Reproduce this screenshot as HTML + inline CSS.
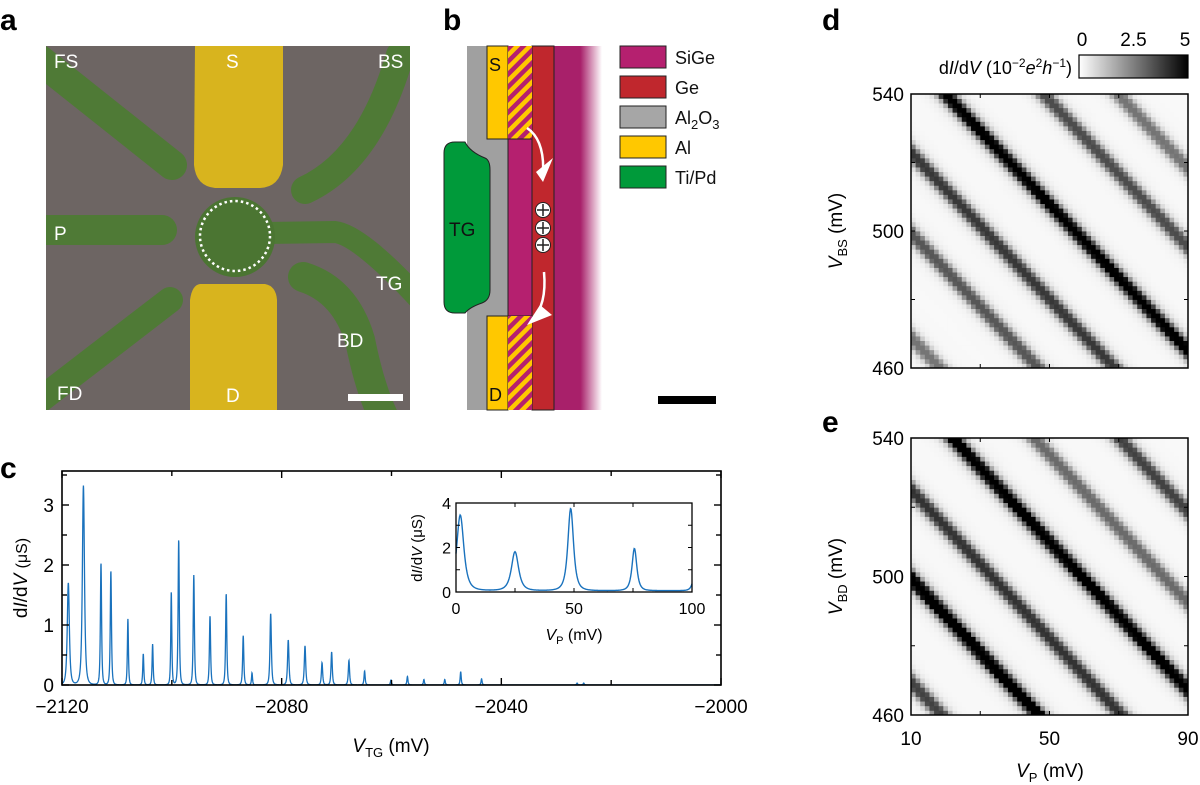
<!DOCTYPE html>
<html><head><meta charset="utf-8"><style>
body{margin:0;background:#fff;}
svg{display:block;font-family:"Liberation Sans",sans-serif;}
</style></head><body>
<svg id="fig" width="1200" height="785" viewBox="0 0 1200 785" xmlns="http://www.w3.org/2000/svg">
<defs>
<pattern id="hatch" width="9" height="9" patternUnits="userSpaceOnUse" patternTransform="rotate(45)">
<rect width="9" height="9" fill="#b5206f"/><rect width="4.5" height="9" fill="#ffc800"/>
</pattern>
<linearGradient id="fade" x1="0" x2="1"><stop offset="0" stop-color="#a8206a"/><stop offset="0.55" stop-color="#a8206a"/><stop offset="1" stop-color="#fff"/></linearGradient>
<linearGradient id="cbar" x1="0" x2="1"><stop offset="0" stop-color="#fff"/><stop offset="1" stop-color="#000"/></linearGradient>
<clipPath id="clipA"><rect x="46" y="46" width="364" height="364"/></clipPath>
</defs>

<text x="0" y="30" font-size="30" font-weight="bold">a</text>
<text x="443" y="30" font-size="30" font-weight="bold">b</text>
<text x="0" y="478" font-size="30" font-weight="bold">c</text>
<text x="822" y="30" font-size="30" font-weight="bold">d</text>
<text x="822" y="432" font-size="30" font-weight="bold">e</text>

<g clip-path="url(#clipA)">
<rect x="46" y="46" width="364" height="364" fill="#6d6563"/>
<g stroke="#4f7a36" stroke-linecap="round" fill="none">
<path d="M40,60 L172,165" stroke-width="30"/>
<path d="M40,400 L170,300" stroke-width="26"/>
<path d="M40,230 L162,230" stroke-width="30"/>
<path d="M400,55 Q370,160 305,190" stroke-width="28"/>
<path d="M303,277 Q345,290 360,340 Q370,390 385,420" stroke-width="30"/>
<path d="M265,233 L335,232 Q360,235 420,300" stroke-width="22"/>
</g>
<path d="M195,46 L283,46 L283,165 Q280,187 260,188 L215,188 Q196,186 194,165 Z" fill="#d8b41e"/>
<path d="M200,284 L265,284 Q276,286 277,300 L277,412 L190,412 L190,300 Q192,285 200,284 Z" fill="#d8b41e"/>
<circle cx="235" cy="237" r="40" fill="#4b7532"/>
<circle cx="235" cy="236" r="35" fill="none" stroke="#fff" stroke-width="2.5" stroke-dasharray="2.5 3"/>
<rect x="348" y="394" width="55" height="7" fill="#fff"/>
<g fill="#fff" font-size="19">
<text x="54" y="68">FS</text>
<text x="226" y="68">S</text>
<text x="378" y="68">BS</text>
<text x="54" y="240">P</text>
<text x="376" y="290">TG</text>
<text x="337" y="347">BD</text>
<text x="57" y="400">FD</text>
<text x="226" y="402">D</text>
</g>
</g>

<g stroke="#222" stroke-width="1">
<rect x="554" y="46" width="48" height="364" fill="url(#fade)" stroke="none"/>
<rect x="532" y="46" width="22" height="364" fill="#c0272d"/>
<rect x="467" y="46" width="42" height="364" fill="#a0a0a0" stroke="none"/>
<rect x="487" y="46" width="21" height="93" fill="#ffc800"/>
<rect x="508" y="46" width="24" height="93" fill="url(#hatch)" stroke="none"/>
<rect x="508" y="139" width="24" height="177" fill="#b5206f"/>
<rect x="487" y="316" width="21" height="94" fill="#ffc800"/>
<rect x="508" y="316" width="24" height="94" fill="url(#hatch)" stroke="none"/>
<path d="M455,142 L465,142 Q470,152 485,158 Q490,160 490,170 L490,290 Q490,300 482,303 Q470,307 465,313 L455,313 Q444,313 444,302 L444,153 Q444,142 455,142 Z" fill="#009a3a"/>
<text x="449" y="236" font-size="19" stroke="none" fill="#111">TG</text>
<text x="489" y="71" font-size="18" stroke="none" fill="#111">S</text>
<text x="489" y="401" font-size="18" stroke="none" fill="#111">D</text>
<path d="M527,128 Q545,140 543,175" stroke="#fff" stroke-width="2.5" fill="none"/>
<path d="M536,172 L543,182 L553,158 Z" fill="#fff" stroke="none"/>
<path d="M544,272 Q547,305 532,320" stroke="#fff" stroke-width="2.5" fill="none"/>
<path d="M527,325 L552,315 L540,305 Z" fill="#fff" stroke="none"/>
<g fill="#fff" stroke="#222">
<circle cx="543" cy="210" r="7.5"/><circle cx="543" cy="228" r="7.5"/><circle cx="543" cy="245" r="7.5"/>
<path d="M537,210 h12 M543,204 v12 M537,228 h12 M543,222 v12 M537,245 h12 M543,239 v12" stroke-width="1.5"/>
</g>
<rect x="658" y="396" width="58" height="8" fill="#000" stroke="none"/>
</g>
<g font-size="18" fill="#111">
<rect x="620" y="46" width="46" height="22" fill="#b5206f" stroke="#222"/><text x="675" y="64">SiGe</text>
<rect x="620" y="76" width="46" height="22" fill="#c0272d" stroke="#222"/><text x="675" y="94">Ge</text>
<rect x="620" y="106" width="46" height="22" fill="#a6a6a6" stroke="#222"/><text x="675" y="124">Al<tspan font-size="13" dy="5">2</tspan><tspan dy="-5">O</tspan><tspan font-size="13" dy="5">3</tspan></text>
<rect x="620" y="136" width="46" height="22" fill="#ffc800" stroke="#222"/><text x="675" y="154">Al</text>
<rect x="620" y="166" width="46" height="22" fill="#009a3a" stroke="#222"/><text x="675" y="184">Ti/Pd</text>
</g>

<g id="panelC"></g>
<g id="panelD"></g>
<g id="panelE"></g>
</svg>
<script>
const cPeakCenters = [-2118.85,-2116.1,-2112.9,-2111.1,-2108.0,-2105.2,-2103.5,-2100.1,-2098.75,-2096.0,-2093.05,-2090.1,-2087.0,-2085.4,-2082.0,-2078.8,-2075.75,-2072.65,-2070.9,-2067.75,-2064.9,-2060.1,-2057.1,-2054.1,-2050.3,-2047.4,-2043.6,-2026.2,-2025.0];
const cPeakHeights = [1.7,3.32,2.03,1.9,1.1,0.52,0.68,1.55,2.42,1.83,1.15,1.52,0.82,0.2,1.19,0.75,0.65,0.37,0.55,0.41,0.23,0.08,0.14,0.09,0.09,0.22,0.1,0.03,0.03];
const cPeakWidths = [0.3,0.3,0.17,0.17,0.15,0.15,0.15,0.15,0.17,0.17,0.17,0.17,0.17,0.14,0.2,0.2,0.2,0.18,0.18,0.18,0.16,0.15,0.15,0.15,0.15,0.15,0.15,0.15,0.15];
const cXTicks = [-2120,-2080,-2040,-2000];
const cYTicks = [0,1,2,3];
const insetCenters = [1.8,25,48.6,75.6,101];
const insetHeights = [3.4,1.75,3.7,1.9,0.6];
const insetWidths = [2.4,2.4,1.9,1.6,1.4];
const insetXTicks = [0,50,100];
const insetYTicks = [0,2,4];
const dLineIntercepts = [604,581,550.7,523,499.4,469];
const dLineAmps = [2.6,3.4,5.2,3.8,3.2,2.6];
const eLineIntercepts = [604.4,578.1,552.9,525.1,499.5,469.6];
const eLineAmps = [3.6,2.8,5.4,3.9,5.8,3.6];
const lineSlope = -1.07;
const mapXTicks = [10,50,90];
const mapYTicks = [460,500,540];
const cbarTicks = [0,2.5,5];

const NS="http://www.w3.org/2000/svg";
function mk(parent,tag,attrs,text){const e=document.createElementNS(NS,tag);for(const k in attrs)e.setAttribute(k,attrs[k]);if(text!==undefined)e.textContent=text;parent.appendChild(e);return e;}
function shape(u){return 1/Math.pow(1+u*u,1.6);}

(function(){
const g=document.getElementById('panelC');
const L=62,R=721,T=471,B=685;
const xs=v=>L+(v+2120)/120*(R-L);
const ys=v=>B-v*60;
let d='';
for(let v=-2120;v<=-2000;v+=0.03){let s=0.002;for(let i=0;i<cPeakCenters.length;i++){const u=(v-cPeakCenters[i])/cPeakWidths[i];s+=cPeakHeights[i]*shape(u);}d+=(d?'L':'M')+xs(v).toFixed(2)+','+ys(s).toFixed(2);}
const line=mk(g,'path',{d:d,fill:'none',stroke:'#1a72bd','stroke-width':1.3});


const fr=mk(g,'rect',{x:L,y:T,width:R-L,height:B-T,fill:'none',stroke:'#000','stroke-width':1.6});


for(let v=-2120;v<=-2000;v+=20){const x=xs(v);const len=(v%40===0)?7:5;mk(g,'line',{x1:x,x2:x,y1:B,y2:B-len,stroke:'#000','stroke-width':1.4});mk(g,'line',{x1:x,x2:x,y1:T,y2:T+len,stroke:'#000','stroke-width':1.4});}
for(let v=0;v<=3.5;v+=0.5){const y=ys(v);const len=(v%1===0)?7:5;mk(g,'line',{x1:L,x2:L+len,y1:y,y2:y,stroke:'#000','stroke-width':1.4});mk(g,'line',{x1:R,x2:R-len,y1:y,y2:y,stroke:'#000','stroke-width':1.4});}
cXTicks.forEach(v=>{const t=mk(g,'text',{x:xs(v),y:713,'font-size':19,'text-anchor':'middle'},'\u2212'+Math.abs(v));});
cYTicks.forEach(v=>{const t=mk(g,'text',{x:54,y:ys(v)+7,'font-size':19,'text-anchor':'end'},String(v));});
const xt=mk(g,'text',{x:391,y:752,'font-size':19,'text-anchor':'middle'});


xt.innerHTML='<tspan font-style="italic">V</tspan><tspan font-size="13" dy="5">TG</tspan><tspan dy="-5"> (mV)</tspan>';
const yt=mk(g,'text',{x:0,y:0,'font-size':19,'text-anchor':'middle',transform:'translate(27,578) rotate(-90)'});


yt.innerHTML='d<tspan font-style="italic">I</tspan>/d<tspan font-style="italic">V</tspan> <tspan font-size="16">(\u03bcS)</tspan>';
const iL=456,iR=692,iT=503,iB=592;
const ixs=v=>iL+v/100*(iR-iL);
const iys=v=>iB-v/4*(iB-iT);
mk(g,'rect',{x:iL-40,y:iT-8,width:iR-iL+60,height:150,fill:'#fff'});
let di='';
for(let v=0;v<=100;v+=0.25){let s=0.06;for(let i=0;i<insetCenters.length;i++){const u=(v-insetCenters[i])/insetWidths[i];s+=insetHeights[i]*shape(u);}di+=(di?'L':'M')+ixs(v).toFixed(2)+','+iys(Math.min(s,4)).toFixed(2);}
const il=mk(g,'path',{d:di,fill:'none',stroke:'#1a72bd','stroke-width':1.4});


const ifr=mk(g,'rect',{x:iL,y:iT,width:iR-iL,height:iB-iT,fill:'none',stroke:'#000','stroke-width':1.3});


for(let v=0;v<=100;v+=25){const x=ixs(v);mk(g,'line',{x1:x,x2:x,y1:iB,y2:iB-4,stroke:'#000'});mk(g,'line',{x1:x,x2:x,y1:iT,y2:iT+4,stroke:'#000'});}
for(let v=0;v<=4;v+=1){const y=iys(v);mk(g,'line',{x1:iL,x2:iL+4,y1:y,y2:y,stroke:'#000'});mk(g,'line',{x1:iR,x2:iR-4,y1:y,y2:y,stroke:'#000'});}
insetXTicks.forEach(v=>{const t=mk(g,'text',{x:ixs(v),y:614,'font-size':16,'text-anchor':'middle'},String(v));});
insetYTicks.forEach(v=>{const t=mk(g,'text',{x:451,y:iys(v)+6,'font-size':16,'text-anchor':'end'},String(v));});
const ixt=mk(g,'text',{x:574,y:640,'font-size':16,'text-anchor':'middle'});


ixt.innerHTML='<tspan font-style="italic">V</tspan><tspan font-size="11" dy="4">P</tspan><tspan dy="-4"> (mV)</tspan>';
const iyt=mk(g,'text',{x:0,y:0,'font-size':15,'text-anchor':'middle',transform:'translate(422,548) rotate(-90)'});


iyt.innerHTML='d<tspan font-style="italic">I</tspan>/d<tspan font-style="italic">V</tspan> (\u03bcS)';
})();

function heatmap(gid,T,B,intercepts,amps,yname,showX){
const g=document.getElementById(gid);
const L=911,R=1188;
const xs=v=>L+(v-10)/80*(R-L);
const ys=v=>B-(v-460)/80*(B-T);
const N=60, w=2.7;
const cw=(R-L)/N, ch=(B-T)/N;
for(let i=0;i<N;i++){for(let j=0;j<N;j++){
const vp=10+(i+0.5)*80/N, vb=460+(j+0.5)*80/N;
let s=0.12;
for(let k=0;k<intercepts.length;k++){const dy=vb-(intercepts[k]+lineSlope*(vp-10));const u=dy/w;s+=amps[k]/(1+u*u*u*u);}
const gv=Math.max(0,Math.round(255*(1-Math.min(s,5)/5)));
const c=mk(g,'rect',{x:(L+i*cw).toFixed(2),y:(B-(j+1)*ch).toFixed(2),width:(cw+0.4).toFixed(2),height:(ch+0.4).toFixed(2),fill:'rgb('+gv+','+gv+','+gv+')'});


}}
const fr=mk(g,'rect',{x:L,y:T,width:R-L,height:B-T,fill:'none',stroke:'#000','stroke-width':1.5});


for(let v=10;v<=90;v+=20){const x=xs(v);mk(g,'line',{x1:x,x2:x,y1:B,y2:B-4,stroke:'#000'});mk(g,'line',{x1:x,x2:x,y1:T,y2:T+4,stroke:'#000'});}
for(let v=460;v<=540;v+=20){const y=ys(v);mk(g,'line',{x1:L,x2:L+4,y1:y,y2:y,stroke:'#000'});mk(g,'line',{x1:R,x2:R-4,y1:y,y2:y,stroke:'#000'});}
mapYTicks.forEach(v=>{const t=mk(g,'text',{x:904,y:ys(v)+7,'font-size':19,'text-anchor':'end'},String(v));});
if(showX){
mapXTicks.forEach(v=>{const t=mk(g,'text',{x:xs(v),y:B+30,'font-size':19,'text-anchor':'middle'},String(v));});
const xt=mk(g,'text',{x:1050,y:B+62,'font-size':19,'text-anchor':'middle'});


xt.innerHTML='<tspan font-style="italic">V</tspan><tspan font-size="13" dy="5">P</tspan><tspan dy="-5"> (mV)</tspan>';
}
const yt=mk(g,'text',{x:0,y:0,'font-size':19,'text-anchor':'middle',transform:'translate(842,'+((T+B)/2)+') rotate(-90)'});


yt.innerHTML='<tspan font-style="italic">V</tspan><tspan font-size="13" dy="5">'+yname+'</tspan><tspan dy="-5"> (mV)</tspan>';
}
heatmap('panelD',94,368,dLineIntercepts,dLineAmps,'BS',false);
heatmap('panelE',438,715,eLineIntercepts,eLineAmps,'BD',true);

(function(){
const g=document.getElementById('panelD');
const cb=mk(g,'rect',{x:1079,y:55,width:109,height:23,fill:'url(#cbar)',stroke:'#000','stroke-width':1.2});


cbarTicks.forEach(v=>{const t=mk(g,'text',{x:1082+v/5*103,y:46,'font-size':19,'text-anchor':'middle'},String(v));});
const lab=mk(g,'text',{x:1072,y:74,'font-size':18,'text-anchor':'end'});


lab.innerHTML='d<tspan font-style="italic">I</tspan>/d<tspan font-style="italic">V</tspan> (10<tspan font-size="12" dy="-7">\u22122</tspan><tspan font-style="italic" dy="7">e</tspan><tspan font-size="12" dy="-7">2</tspan><tspan font-style="italic" dy="7">h</tspan><tspan font-size="12" dy="-7">\u22121</tspan><tspan dy="7">)</tspan>';
})();
</script>
</body></html>
